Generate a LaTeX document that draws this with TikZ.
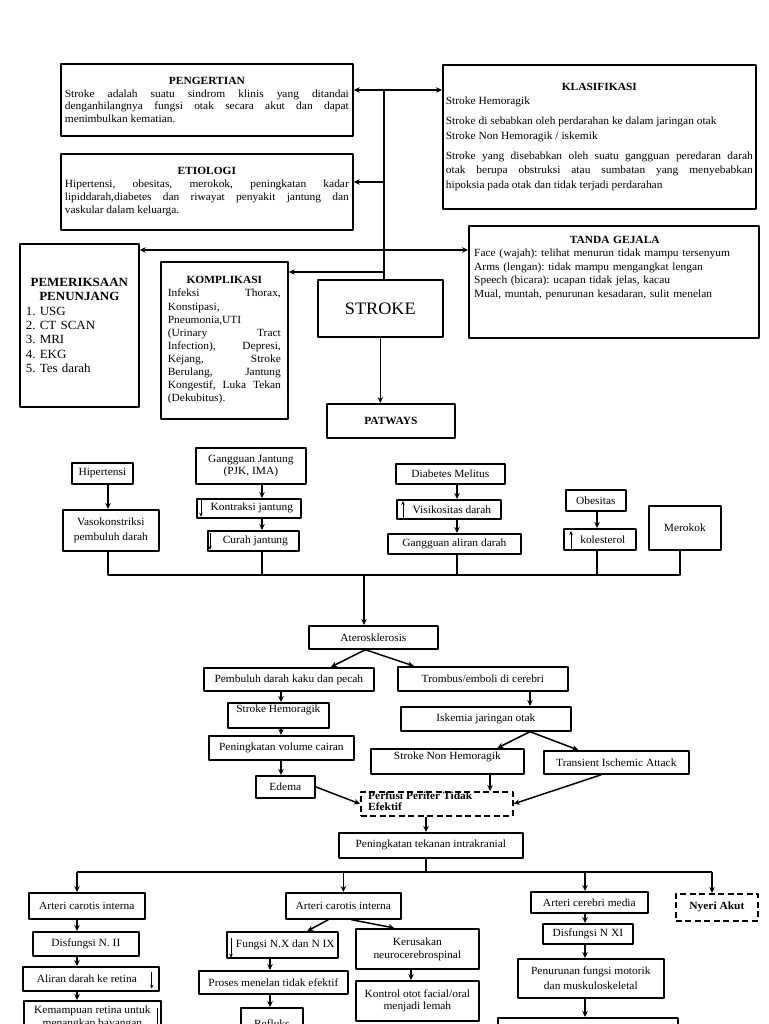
\documentclass[tikz,border=0pt]{standalone}
\usepackage{fontspec}
\setmainfont{Liberation Serif}[FakeStretch=1.04]
\usetikzlibrary{arrows.meta}
\frenchspacing
\begin{document}
\begin{tikzpicture}[x=1pt, y=-1pt, font=\fontsize{11}{13}\selectfont, line join=round,
	>={Stealth[length=6pt,width=5.5pt]},
	box/.style={draw, line width=1.7pt, anchor=north west, inner sep=1pt, align=center},
	dbox/.style={box, dash pattern=on 6pt off 3.5pt},
	line/.style={line width=1.5pt},
	arr/.style={line, ->},
	sarr/.style={line width=0.8pt, -{Stealth[length=4pt,width=3.5pt]}}]
	\useasboundingbox (0,0) rectangle (768,1024);
	\fill[white] (0,0) rectangle (768,1024);
	\clip (0,0) rectangle (768,1024);
	% bagian atas
	\node[box, text width=284pt, align=justify, minimum height=72pt, inner sep=4pt, font=\fontsize{11}{12.5}\selectfont] (pengertian) at (60,63) {{\centering\textbf{PENGERTIAN}\par}Stroke adalah suatu sindrom klinis yang ditandai\linebreak denganhilangnya fungsi otak secara akut dan dapat\linebreak menimbulkan kematian.};
	\node[box, text width=284pt, align=justify, minimum height=76pt, inner sep=4pt] (etiologi) at (60,153) {{\centering\textbf{ETIOLOGI}\par}Hipertensi, obesitas, merokok, peningkatan kadar\linebreak lipiddarah,diabetes dan riwayat penyakit jantung dan\linebreak vaskular dalam keluarga.};
	\node[box, text width=307pt, align=justify, minimum height=144pt, inner sep=3pt, font=\fontsize{11}{14.5}\selectfont] (klas) at (442,64) {{\centering\textbf{KLASIFIKASI}\par}Stroke Hemoragik\par\vspace{5.5pt}Stroke di sebabkan oleh perdarahan ke dalam jaringan otak\par Stroke Non Hemoragik / iskemik\par\vspace{5.5pt}Stroke yang disebabkan oleh suatu gangguan peredaran darah\linebreak otak berupa obstruksi atau sumbatan yang menyebabkan\linebreak hipoksia pada otak dan tidak terjadi perdarahan};
	\node[box, text width=107pt, align=left, minimum height=163pt, inner sep=6pt, font=\fontsize{12.5}{14.3}\selectfont] (periksa) at (19,243) {{\centering\textbf{PEMERIKSAAN\\PENUNJANG}\par}1. USG\\2. CT SCAN\\3. MRI\\4. EKG\\5. Tes darah};
	\node[box, text width=113pt, align=justify, minimum height=157pt, inner sep=7pt, font=\fontsize{11}{13.1}\selectfont] (kompli) at (160,261) {{\centering\textbf{KOMPLIKASI}\par}Infeksi Thorax,\linebreak Konstipasi,\linebreak Pneumonia,UTI\linebreak (Urinary Tract\linebreak Infection), Depresi,\linebreak Kejang, Stroke\linebreak Berulang, Jantung\linebreak Kongestif, Luka Tekan\linebreak (Dekubitus).};
	\node[box, minimum width=290pt, minimum height=112pt] (tanda) at (468,225) {};
	\node[anchor=north west, inner sep=0pt, text width=281pt, align=left, font=\fontsize{11}{13.5}\selectfont] (tandatext) at ([xshift=6pt,yshift=-11pt]tanda.north west) {{\centering\textbf{TANDA GEJALA}\par}Face (wajah): telihat menurun tidak mampu tersenyum\\Arms (lengan): tidak mampu mengangkat lengan\\Speech (bicara): ucapan tidak jelas, kacau\\Mual, muntah, penurunan kesadaran, sulit menelan};
	\node[box, minimum width=125pt, minimum height=57pt, font=\fontsize{17.5}{20}\selectfont] (stroke) at (317,279) {STROKE};
	\node[box, minimum width=128pt, minimum height=34pt] (patways) at (326,403) {\textbf{PATWAYS}};
	\coordinate (t1) at (384,90);
	\coordinate (t2) at (384,182);
	\coordinate (t3) at (384,250);
	\coordinate (t4) at (384,272);
	\draw[line] (t1) -- (stroke.north -| t1);
	\draw[arr] (t1) -- (pengertian.east |- t1);
	\draw[arr] (t1) -- (klas.west |- t1);
	\draw[arr] (t2) -- (etiologi.east |- t2);
	\draw[arr] (t3) -- (periksa.east |- t3);
	\draw[arr] (t3) -- (tanda.west |- t3);
	\draw[arr] (t4) -- (kompli.east |- t4);
	\draw[arr] (stroke.south) -- (stroke.south |- patways.north);
	% faktor risiko
	\node[box, minimum width=61pt, minimum height=21pt] (hiper) at (71,462) {Hipertensi};
	\node[box, minimum width=96pt, minimum height=41pt, font=\fontsize{11}{15}\selectfont] (vaso) at (62,509) {Vasokonstriksi\\pembuluh darah};
	\node[box, minimum width=110pt, minimum height=36pt, font=\fontsize{11}{11.5}\selectfont] (jantung) at (195,447) {Gangguan Jantung\\(PJK, IMA)};
	\node[box, minimum width=104pt, minimum height=19pt] (kontraksi) at (196,498) {\hspace{6pt}Kontraksi jantung};
	\node[box, minimum width=91pt, minimum height=20pt] (curah) at (207,530) {\hspace{4pt}Curah jantung};
	\node[box, minimum width=109pt, minimum height=20pt] (dm) at (395,463) {Diabetes Melitus};
	\node[box, minimum width=104pt, minimum height=19pt] (visko) at (396,499) {\hspace{6pt}Visikositas darah};
	\node[box, minimum width=133pt, minimum height=20pt] (aliran) at (387,533) {Gangguan aliran darah};
	\node[box, minimum width=60pt, minimum height=21pt] (obes) at (565,489) {Obesitas};
	\node[box, minimum width=72pt, minimum height=21pt] (koles) at (563,528) {\hspace{6pt}kolesterol};
	\node[box, minimum width=72pt, minimum height=44pt] (merokok) at (648,505) {Merokok};
	\draw[sarr] ([xshift=5pt,yshift=-2pt]kontraksi.north west) -- ([xshift=5pt,yshift=2pt]kontraksi.south west);
	\draw[sarr] ([xshift=3pt,yshift=-3pt]curah.north west) -- ([xshift=3pt,yshift=2pt]curah.south west);
	\draw[sarr] ([xshift=7pt,yshift=1pt]visko.south west) -- ([xshift=7pt,yshift=-2pt]visko.north west);
	\draw[sarr] ([xshift=8pt,yshift=1pt]koles.south west) -- ([xshift=8pt,yshift=-3pt]koles.north west);
	\coordinate (busa) at (0,575);
	\coordinate (ch) at (108,0);
	\coordinate (cj) at (262,0);
	\coordinate (cd) at (457,0);
	\coordinate (co) at (597,0);
	\coordinate (cm) at (680,0);
	\coordinate (ca) at (364,0);
	\draw[arr] (hiper.south -| ch) -- (vaso.north -| ch);
	\draw[arr] (jantung.south -| cj) -- (kontraksi.north -| cj);
	\draw[arr] (kontraksi.south -| cj) -- (curah.north -| cj);
	\draw[arr] (dm.south -| cd) -- (visko.north -| cd);
	\draw[arr] (visko.south -| cd) -- (aliran.north -| cd);
	\draw[arr] (obes.south -| co) -- (koles.north -| co);
	\draw[line] (vaso.south -| ch) -- (ch |- busa) -- (cm |- busa) -- (merokok.south -| cm);
	\draw[line] (curah.south -| cj) -- (cj |- busa);
	\draw[line] (aliran.south -| cd) -- (cd |- busa);
	\draw[line] (koles.south -| co) -- (co |- busa);
	% jalur patofisiologi
	\node[box, minimum width=129pt, minimum height=23pt] (atero) at (308,625) {Aterosklerosis};
	\node[box, minimum width=170pt, minimum height=23pt] (pembuluh) at (203,667) {Pembuluh darah kaku dan pecah};
	\node[box, minimum width=170pt, minimum height=24pt] (trombus) at (397,666) {Trombus/emboli di cerebri};
	\node[box, minimum width=101pt, inner sep=0pt, text height=10pt, text depth=15pt] (strokeh) at (227,702) {Stroke Hemoragik};
	\node[box, minimum width=170pt, minimum height=24pt] (iskemia) at (400,706) {Iskemia jaringan otak};
	\node[box, minimum width=145pt, minimum height=24pt] (volume) at (208,735) {Peningkatan volume cairan};
	\node[box, minimum width=59pt, minimum height=22pt] (edema) at (255,775) {Edema};
	\node[box, minimum width=153pt, inner sep=0pt, text height=11pt, text depth=14pt] (snh) at (370,748) {Stroke Non Hemoragik};
	\node[box, minimum width=145pt, minimum height=23pt] (tia) at (543,750) {Transient Ischemic Attack};
	\node[dbox, minimum width=152pt, minimum height=24pt] (perfusi) at (360,791) {};
	\node[anchor=north west, inner sep=0pt, align=left, font=\fontsize{11}{11}\selectfont\bfseries] (perfusitext) at ([xshift=8pt,yshift=-1pt]perfusi.north west) {Perfusi Perifer Tidak\\Efektif};
	\node[box, minimum width=184pt, minimum height=25pt] (tekanan) at (338,832) {Peningkatan tekanan intrakranial};
	\coordinate (cp) at (281,0);
	\coordinate (ct) at (530,0);
	\coordinate (cs) at (490,0);
	\coordinate (ck) at (426,0);
	\draw[arr] (ca |- busa) -- (atero.north -| ca);
	\draw[arr] ([xshift=-8pt]atero.south) -- ([xshift=42pt]pembuluh.north);
	\draw[arr] ([xshift=-8pt]atero.south) -- ([xshift=-69pt]trombus.north);
	\draw[arr] (pembuluh.south -| cp) -- (strokeh.north -| cp);
	\draw[arr] (strokeh.south -| cp) -- (volume.north -| cp);
	\draw[arr] (volume.south -| cp) -- (edema.north -| cp);
	\draw[arr] (trombus.south -| ct) -- (iskemia.north -| ct);
	\draw[arr] (iskemia.south -| ct) -- ([xshift=50pt]snh.north);
	\draw[arr] (iskemia.south -| ct) -- ([xshift=-38pt]tia.north);
	\draw[arr] (edema.east) -- (perfusi.west);
	\draw[arr] (snh.south -| cs) -- (perfusi.north -| cs);
	\draw[arr] ([xshift=-15pt]tia.south) -- (perfusi.east);
	\draw[arr] (perfusi.south -| ck) -- (tekanan.north -| ck);
	% dampak
	\node[box, minimum width=116pt, minimum height=26pt] (ac1) at (28,892) {Arteri carotis interna};
	\node[box, minimum width=106pt, minimum height=24pt] (dis2) at (32,931) {Disfungsi N. II};
	\node[box, minimum width=136pt, minimum height=24pt] (retina) at (22,966) {Aliran darah ke retina\hspace{8pt}};
	\node[box, minimum width=137pt, minimum height=34pt] (kemampuan) at (23,1000) {Kemampuan retina untuk\\menangkap bayangan};
	\node[box, minimum width=115pt, minimum height=26pt] (ac2) at (285,892) {Arteri carotis interna};
	\node[box, minimum width=111pt, minimum height=26pt] (fungsi) at (226,931) {\hspace{6pt}Fungsi N.X dan N IX};
	\node[box, minimum width=149pt, minimum height=23pt] (proses) at (198,970) {Proses menelan tidak efektif};
	\node[box, minimum width=62pt, inner sep=0pt, text height=20pt, text depth=15pt] (refluks) at (240,1007) {Refluks};
	\node[box, minimum width=123pt, minimum height=40pt] (kerusakan) at (355,928) {Kerusakan\\neurocerebrospinal};
	\node[box, minimum width=123pt, minimum height=40pt, font=\fontsize{11}{12.5}\selectfont] (kontrol) at (355,980) {Kontrol otot facial/oral\\menjadi lemah};
	\node[box, minimum width=117pt, minimum height=21pt] (acm) at (530,891) {Arteri cerebri media};
	\node[box, minimum width=90pt, minimum height=20pt] (dis11) at (542,923) {Disfungsi N XI};
	\node[box, minimum width=146pt, minimum height=39pt, font=\fontsize{11}{15}\selectfont] (penurunan) at (517,958) {Penurunan fungsi motorik\\dan muskuloskeletal};
	\node[box, minimum width=180pt, inner sep=0pt, text height=15pt, text depth=12pt] (kelemahan) at (497,1017) {Kelemahan pada anggota gerak};
	\node[dbox, minimum width=82pt, minimum height=27pt] (nyeri) at (675,893) {\textbf{Nyeri Akut}};
	\draw[sarr] ([xshift=-8pt,yshift=-6pt]retina.north east) -- ([xshift=-8pt,yshift=3pt]retina.south east);
	\draw[sarr] ([xshift=5pt,yshift=-7pt]fungsi.north west) -- ([xshift=5pt,yshift=1pt]fungsi.south west);
	\draw[line width=0.8pt] ([xshift=-4pt,yshift=-8pt]kemampuan.north east) -- ([xshift=-4pt]kemampuan.south east);
	\coordinate (busb) at (0,872);
	\coordinate (cr) at (77,0);
	\coordinate (cf) at (270,0);
	\coordinate (cn) at (411,0);
	\coordinate (cc) at (585,0);
	\coordinate (cy) at (712,0);
	\draw[line] (tekanan.south -| ck) -- (ck |- busb);
	\draw[line] (cr |- busb) -- (cy |- busb);
	\draw[arr] (cr |- busb) -- (ac1.north -| cr);
	\draw[arr] (ac2.north |- busb) -- (ac2.north);
	\draw[arr] (cc |- busb) -- (acm.north -| cc);
	\draw[arr] (cy |- busb) -- (nyeri.north -| cy);
	\draw[arr] (ac1.south -| cr) -- (dis2.north -| cr);
	\draw[arr] (dis2.south -| cr) -- (retina.north -| cr);
	\draw[arr] (retina.south -| cr) -- (kemampuan.north -| cr);
	\draw[arr] ([xshift=-15pt]ac2.south) -- ([xshift=25pt]fungsi.north);
	\draw[arr] ([xshift=8pt]ac2.south) -- ([xshift=-23pt]kerusakan.north);
	\draw[arr] (fungsi.south -| cf) -- (proses.north -| cf);
	\draw[arr] (proses.south -| cf) -- (refluks.north -| cf);
	\draw[arr] (kerusakan.south -| cn) -- (kontrol.north -| cn);
	\draw[arr] (acm.south -| cc) -- (dis11.north -| cc);
	\draw[arr] (dis11.south -| cc) -- (penurunan.north -| cc);
	\draw[arr] (penurunan.south -| cc) -- (kelemahan.north -| cc);
\end{tikzpicture}
\end{document}
